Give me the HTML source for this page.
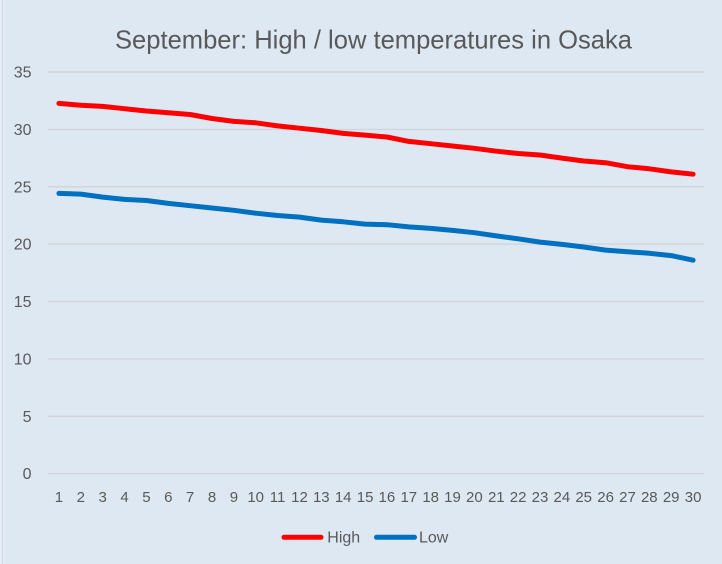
<!DOCTYPE html>
<html>
<head>
<meta charset="utf-8">
<style>
  html, body { margin: 0; padding: 0; }
  body { width: 722px; height: 564px; overflow: hidden; background: #dee8f3; }
  svg { display: block; }
  text { font-family: "Liberation Sans", sans-serif; fill: #595959; }
</style>
</head>
<body>
<svg width="722" height="564" viewBox="0 0 722 564" xmlns="http://www.w3.org/2000/svg">
  <rect x="0" y="0" width="722" height="564" fill="#dee8f3"/>
  <!-- left edge detail -->
  <rect x="0" y="0" width="2" height="564" fill="#e6edf6"/>
  <rect x="2" y="0" width="1" height="564" fill="#cdd8e4"/>
  <rect x="3" y="0" width="2" height="564" fill="#e4ecf5"/>

  <!-- Title -->
  <text x="115" y="48.5" font-size="26" textLength="517" lengthAdjust="spacingAndGlyphs">September: High / low temperatures in Osaka</text>

  <!-- Gridlines -->
  <g stroke="#d1d5da" stroke-width="1.4">
    <line x1="48" y1="473.7" x2="704" y2="473.7"/>
    <line x1="48" y1="416.3" x2="704" y2="416.3"/>
    <line x1="48" y1="358.9" x2="704" y2="358.9"/>
    <line x1="48" y1="301.5" x2="704" y2="301.5"/>
    <line x1="48" y1="244.1" x2="704" y2="244.1"/>
    <line x1="48" y1="186.8" x2="704" y2="186.8"/>
    <line x1="48" y1="129.4" x2="704" y2="129.4"/>
    <line x1="48" y1="72.0" x2="704" y2="72.0"/>
  </g>

  <!-- Y labels -->
  <g font-size="16" text-anchor="end">
    <text x="31.5" y="479.2">0</text>
    <text x="31.5" y="421.8">5</text>
    <text x="31.5" y="364.4">10</text>
    <text x="31.5" y="307.0">15</text>
    <text x="31.5" y="249.6">20</text>
    <text x="31.5" y="192.3">25</text>
    <text x="31.5" y="134.9">30</text>
    <text x="31.5" y="77.5">35</text>
  </g>

  <!-- X labels -->
  <g font-size="15" text-anchor="middle">
    <text x="58.9" y="502">1</text>
    <text x="80.8" y="502">2</text>
    <text x="102.7" y="502">3</text>
    <text x="124.5" y="502">4</text>
    <text x="146.4" y="502">5</text>
    <text x="168.3" y="502">6</text>
    <text x="190.1" y="502">7</text>
    <text x="212.0" y="502">8</text>
    <text x="233.9" y="502">9</text>
    <text x="255.7" y="502">10</text>
    <text x="277.6" y="502">11</text>
    <text x="299.5" y="502">12</text>
    <text x="321.3" y="502">13</text>
    <text x="343.2" y="502">14</text>
    <text x="365.1" y="502">15</text>
    <text x="386.9" y="502">16</text>
    <text x="408.8" y="502">17</text>
    <text x="430.7" y="502">18</text>
    <text x="452.5" y="502">19</text>
    <text x="474.4" y="502">20</text>
    <text x="496.3" y="502">21</text>
    <text x="518.1" y="502">22</text>
    <text x="540.0" y="502">23</text>
    <text x="561.9" y="502">24</text>
    <text x="583.7" y="502">25</text>
    <text x="605.6" y="502">26</text>
    <text x="627.5" y="502">27</text>
    <text x="649.3" y="502">28</text>
    <text x="671.2" y="502">29</text>
    <text x="693.1" y="502">30</text>
  </g>

  <!-- High series -->
  <polyline fill="none" stroke="#ff0000" stroke-width="5" stroke-linejoin="round" stroke-linecap="round"
    points="58.9,103.4 80.8,105.3 102.7,106.4 124.5,108.7 146.4,111.0 168.3,112.8 190.1,114.5 212.0,118.5 233.9,121.4 255.7,122.8 277.6,125.9 299.5,128.2 321.3,130.5 343.2,133.4 365.1,135.1 386.9,137.0 408.8,141.4 430.7,143.7 452.5,146.0 474.4,148.3 496.3,151.2 518.1,153.5 540.0,155.0 561.9,158.1 583.7,161.0 605.6,162.7 627.5,166.7 649.3,168.8 671.2,171.9 693.1,174.2"/>

  <!-- Low series -->
  <polyline fill="none" stroke="#0070c0" stroke-width="5" stroke-linejoin="round" stroke-linecap="round"
    points="58.9,193.4 80.8,194.1 102.7,197.1 124.5,199.4 146.4,200.5 168.3,203.4 190.1,205.7 212.0,208.0 233.9,210.3 255.7,213.2 277.6,215.5 299.5,217.1 321.3,220.1 343.2,221.8 365.1,224.1 386.9,224.7 408.8,226.9 430.7,228.4 452.5,230.4 474.4,232.7 496.3,235.9 518.1,238.8 540.0,242.1 561.9,244.4 583.7,247.0 605.6,250.1 627.5,251.7 649.3,253.3 671.2,255.6 693.1,260.2"/>

  <!-- Legend -->
  <line x1="284" y1="537.3" x2="321" y2="537.3" stroke="#ff0000" stroke-width="5" stroke-linecap="round"/>
  <text x="327.3" y="542.3" font-size="16">High</text>
  <line x1="376.5" y1="537.3" x2="414.5" y2="537.3" stroke="#0070c0" stroke-width="5" stroke-linecap="round"/>
  <text x="419" y="542.3" font-size="16">Low</text>
</svg>
</body>
</html>
